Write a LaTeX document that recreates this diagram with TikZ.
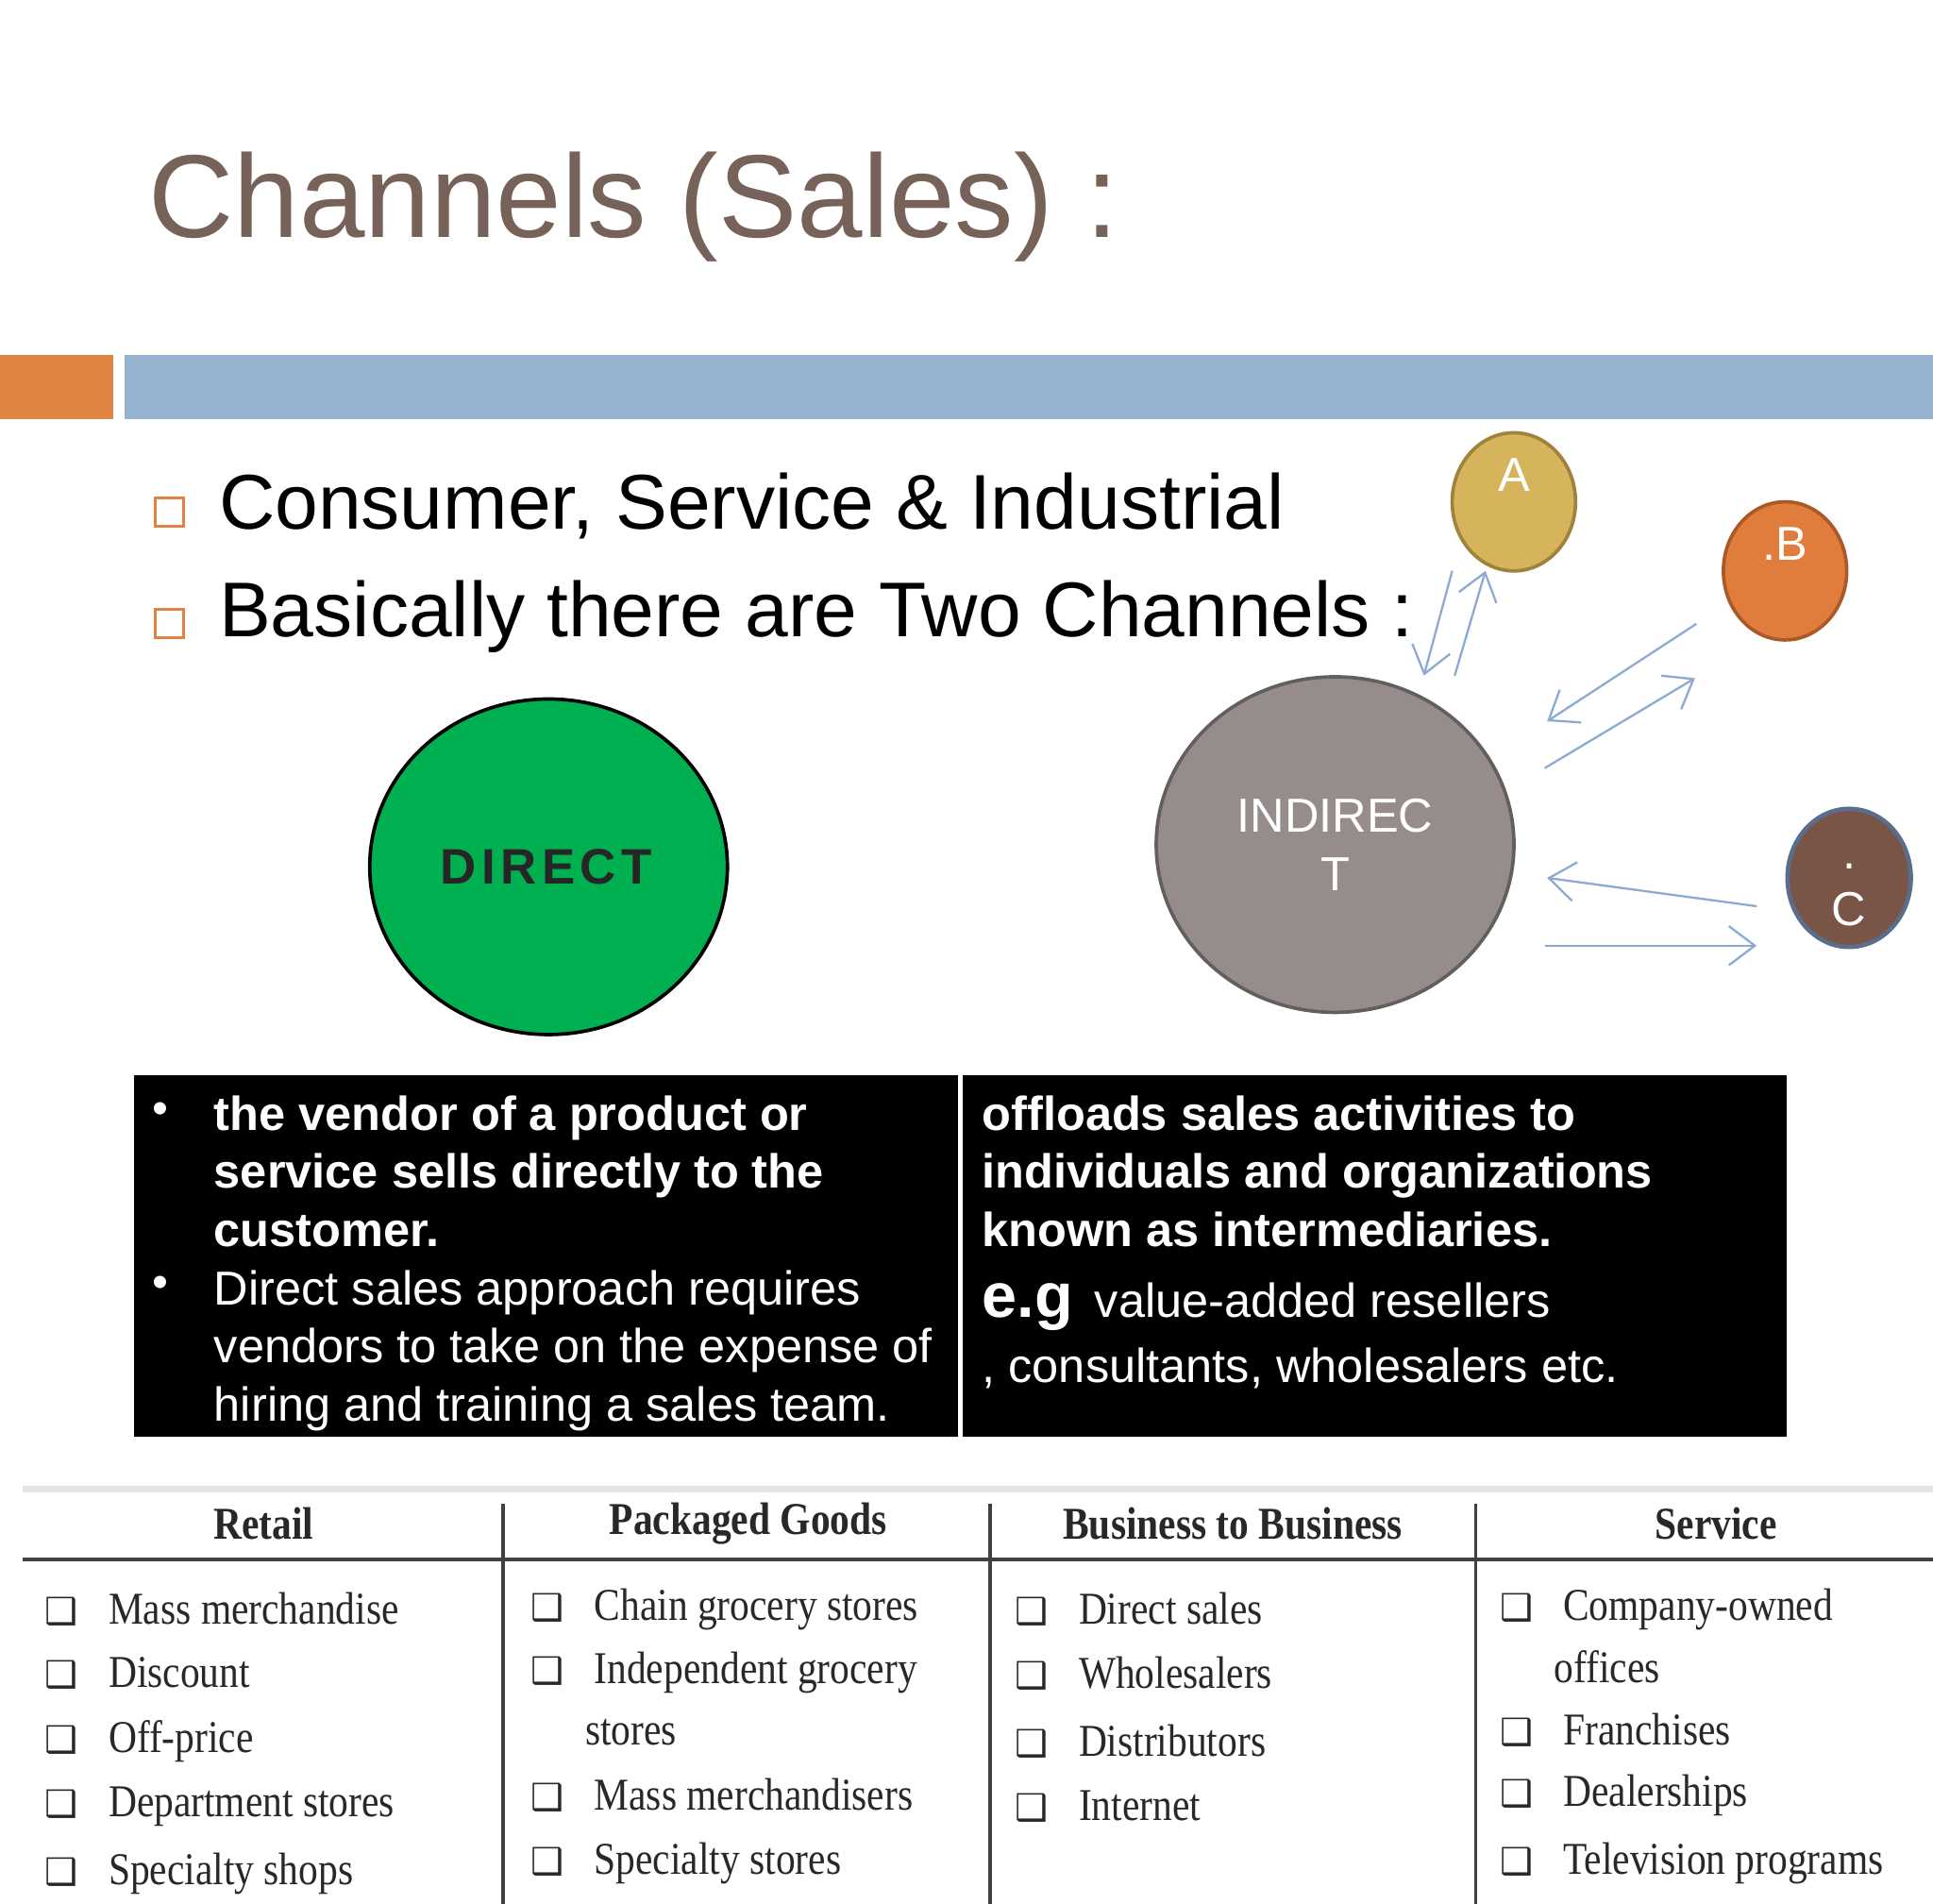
\documentclass[tikz,border=0pt]{standalone}
\usepackage{fontspec}
\setmainfont{Liberation Sans}
\newfontfamily\tabfont[FakeStretch=0.86]{Liberation Serif}
\newfontfamily\symfont{DejaVu Sans}
\usetikzlibrary{arrows.meta,shapes.geometric}
\definecolor{titlec}{RGB}{118,98,88}
\definecolor{orng}{RGB}{224,130,65}
\definecolor{blubar}{RGB}{149,179,207}
\definecolor{arr}{RGB}{140,170,210}
\definecolor{tabtxt}{RGB}{40,40,40}
\begin{document}
\begin{tikzpicture}[x=0.01cm,y=-0.01cm,
  conn/.style={draw=arr,line width=0.5pt,-{Straight Barb[length=6pt,width=9pt]}},
  big/.style={ellipse,minimum width=2.9cm,minimum height=2.72cm,inner sep=0pt,line width=0.8pt},
  bt/.style={anchor=north west,text=white,align=left,inner sep=0pt,font=\fontsize{11}{13.4}\selectfont},
  th/.style={font=\tabfont\bfseries\fontsize{10.5}{12}\selectfont,text=tabtxt},
  ti/.style={anchor=west,font=\tabfont\fontsize{10.5}{13.5}\selectfont,text=tabtxt,align=left,inner sep=0pt},
  tl/.style={draw=black!75,line width=0.8pt}]
\useasboundingbox[fill=white] (0,0) rectangle (1568,1544);
\node[anchor=west,text=titlec,font=\fontsize{27.2}{30}\selectfont,inner sep=0pt] (title) at (120,168) {Channels (Sales) :};
\fill[orng] (0,288) rectangle (92,340);
\fill[blubar] (101,288) rectangle (1568,340);
\draw[orng,line width=0.7pt] (126,404) rectangle (149,427);
\draw[orng,line width=0.7pt] (126,494) rectangle (149,517);
\node[anchor=west,inner sep=0pt,font=\fontsize{17.9}{20}\selectfont] (b1) at (177,410) {Consumer, Service \& Industrial};
\node[anchor=west,inner sep=0pt,font=\fontsize{17.9}{20}\selectfont] (b2) at (177,500) {Basically there are Two Channels :};
\node[ellipse,minimum width=1.0cm,minimum height=1.12cm,fill={rgb,255:red,214;green,180;blue,92},draw={rgb,255:red,160;green,130;blue,60},line width=0.8pt] (A) at (1228,407) {};
\node[text=white,font=\fontsize{11}{13}\selectfont] at (1228,385) {A};
\node[ellipse,minimum width=1.0cm,minimum height=1.12cm,fill={rgb,255:red,224;green,125;blue,60},draw={rgb,255:red,170;green,90;blue,40},line width=0.8pt] (B) at (1448,463) {};
\node[text=white,font=\fontsize{11}{13}\selectfont] at (1448,441) {.B};
\node[ellipse,minimum width=1.0cm,minimum height=1.12cm,fill={rgb,255:red,120;green,85;blue,70},draw={rgb,255:red,90;green,110;blue,140},line width=1pt] (C) at (1500,712) {};
\node[text=white,font=\fontsize{11}{13}\selectfont,align=center] at (1500,726) {.\\C};
\node[big,fill={rgb,255:red,0;green,176;blue,80},draw=black] (direct) at (445,703) {};
\node[font=\bfseries\fontsize{11.5}{13}\selectfont,text=black!85] at (443,703) {D\kern1.2pt I\kern1.2pt R\kern1.2pt E\kern1.2pt C\kern1.2pt T};
\node[big,fill={rgb,255:red,150;green,140;blue,140},draw={rgb,255:red,100;green,95;blue,95}] (indirect) at (1083,685) {};
\node[text=white,font=\fontsize{11}{13.4}\selectfont,align=center] at (1083,685) {INDIREC\\T};
\coordinate (a1) at (1178,463); \coordinate (a2) at (1155,548);
\coordinate (a3) at (1180,548); \coordinate (a4) at (1205,463);
\coordinate (b1s) at (1376,506); \coordinate (b1e) at (1255,585);
\coordinate (b2s) at (1253,623); \coordinate (b2e) at (1375,550);
\coordinate (c1s) at (1425,735); \coordinate (c1e) at (1255,712);
\coordinate (c2s) at (1253,767); \coordinate (c2e) at (1425,767);
\draw[conn] (a1) -- (a2); \draw[conn] (a3) -- (a4);
\draw[conn] (b1s) -- (b1e); \draw[conn] (b2s) -- (b2e);
\draw[conn] (c1s) -- (c1e); \draw[conn] (c2s) -- (c2e);
\fill[black] (109,872) rectangle (1449,1165);
\draw[white,line width=1pt] (779,872) -- (779,1165);
\node[text=white,font=\fontsize{10.5}{13}\selectfont] at (130,903) {•};
\node[text=white,font=\fontsize{10.5}{13}\selectfont] at (130,1044) {•};
\node[bt] (lt) at (173,888) {\bfseries the vendor of a product or\\\bfseries service sells directly to the\\\bfseries customer.\\Direct sales approach requires\\vendors to take on the expense of\\hiring and training a sales team.};
\node[bt] (rt) at (796,888) {\bfseries offloads sales activities to\\\bfseries individuals and organizations\\\bfseries known as intermediaries.};
\node[anchor=west,text=white,inner sep=0pt] (eg) at (796,1060) {{\bfseries\fontsize{14.5}{16}\selectfont e.g}\hspace{5pt}{\fontsize{11}{13}\selectfont value-added resellers}};
\node[anchor=west,text=white,inner sep=0pt,font=\fontsize{11}{13}\selectfont] (eg2) at (796,1110) {, consultants, wholesalers etc.};
\draw[black!10,line width=1.5pt] (18,1208) -- (1568,1208);
\draw[tl] (18,1265) -- (1568,1265);
\foreach \x in {408,803,1197} \draw[tl] (\x,1220) -- (\x,1544);
\node[th] (h1) at (214,1236) {Retail};
\node[th] (h2) at (607,1236) {Packaged Goods};
\node[th] (h3) at (1000,1236) {Business to Business};
\node[th] (h4) at (1392,1236) {Service};
\foreach \y/\t in {1305/Mass merchandise,1357/Discount,1412/Off-price,1465/Department stores,1520/Specialty shops}
  {\node[ti] at (36,\y) {{\symfont\fontsize{8.5}{10}\selectfont ❑}\hspace{7pt}\t};}
\foreach \y/\t in {1305/Chain grocery stores,1357/Independent grocery,1456/Mass merchandisers,1511/Specialty stores}
  {\node[ti] at (430,\y) {{\symfont\fontsize{8.5}{10}\selectfont ❑}\hspace{7pt}\t};}
\node[ti] at (474,1405) {stores};
\foreach \y/\t in {1305/Direct sales,1357/Wholesalers,1412/Distributors,1465/Internet}
  {\node[ti] at (823,\y) {{\symfont\fontsize{8.5}{10}\selectfont ❑}\hspace{7pt}\t};}
\foreach \y/\t in {1305/Company-owned,1403/Franchises,1456/Dealerships,1511/Television programs}
  {\node[ti] at (1216,\y) {{\symfont\fontsize{8.5}{10}\selectfont ❑}\hspace{7pt}\t};}
\node[ti] at (1260,1352) {offices};
\end{tikzpicture}
\end{document}
